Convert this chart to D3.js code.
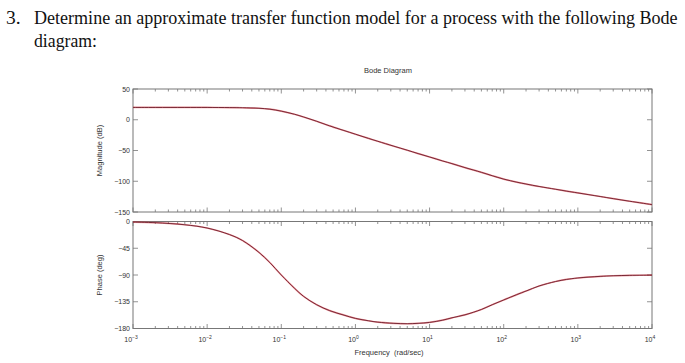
<!DOCTYPE html>
<html>
<head>
<meta charset="utf-8">
<script src="https://cdn.jsdelivr.net/npm/d3@7"></script>
<style>
  body { margin: 0; background: #fff; }
  svg { display: block; }
  .hdr { font-family: "Liberation Serif", "Times New Roman", serif; font-size: 19.5px; fill: #111; }
  .lbl { font-family: "Liberation Sans", Arial, sans-serif; fill: #333; }
</style>
</head>
<body>
<svg width="685" height="363"></svg>
<script>
// frequencies (rad/sec)
var freq = [0.001, 0.002, 0.005, 0.01, 0.02, 0.03, 0.05, 0.07, 0.1, 0.15, 0.2, 0.3, 0.45, 0.7,
            1, 1.5, 2, 3.3, 5, 7, 10, 15, 20, 30, 50, 70, 100, 150, 200, 300, 500, 700,
            1000, 2000, 3000, 5000, 10000];
var magDb = [20, 20, 20, 20, 19.8, 19.5, 18.7, 17.2, 14, 9, 4.5, -2.5, -10, -17.5,
             -23.5, -30.3, -35, -43, -49.5, -55, -60.5, -67, -71.3, -77.8, -85.5, -91, -96.5, -101.5, -104.5, -108.5, -113, -116,
             -119, -124.8, -128.3, -132.5, -138];
var phaseDeg = [-1, -2, -5.5, -11, -22, -32, -52, -69, -90, -112, -126, -140, -150, -157.5,
                -163, -167, -169.3, -171.3, -172, -171.3, -169.8, -166, -162, -157, -148, -140, -132, -123, -117, -108.5, -101, -97.5,
                -95, -92.3, -91.3, -90.6, -90.2];

var magTicks = [50, 0, -50, -100, -150];
var phaseTicks = [0, -45, -90, -135, -180];
var decades = [-3, -2, -1, 0, 1, 2, 3, 4];

var svg = d3.select("svg");

// header text, squeezed horizontally like the scanned original
function header(str, x0, y0, width) {
  var g = svg.append("g");
  var t = g.append("text").attr("class", "hdr").text(str);
  var k = width ? width / t.node().getComputedTextLength() : 1;
  g.attr("transform", "translate(" + x0 + "," + y0 + ") scale(" + k + ",1)");
}
header("3.", 6, 24, 0);
header("Determine an approximate transfer function model for a process with the following Bode", 34, 24, 644);
header("diagram:", 34, 47, 63);

var x = d3.scaleLog().domain([1e-3, 1e4]).range([133, 652]);
var yMag = d3.scaleLinear().domain([-150, 50]).range([212, 89]);
var yPh = d3.scaleLinear().domain([-180, 0]).range([328.5, 221.5]);

var minor = [];
decades.slice(0, -1).forEach(function(e) {
  for (var k = 2; k <= 9; k++) minor.push(k * Math.pow(10, e));
});
var major = decades.map(function(e) { return Math.pow(10, e); });

function panel(y, ticks, vals, label, showX) {
  var g = svg.append("g");
  var top = y.range()[1], bot = y.range()[0];
  var l = x.range()[0], r = x.range()[1];

  g.append("rect").attr("x", l).attr("y", top).attr("width", r - l).attr("height", bot - top)
    .attr("fill", "none").attr("stroke", "#777").attr("stroke-width", 1);

  // x ticks top and bottom, inside
  [[top, 1], [bot, -1]].forEach(function(p) {
    g.selectAll(null).data(minor).enter().append("line")
      .attr("x1", function(d) { return x(d); }).attr("x2", function(d) { return x(d); })
      .attr("y1", p[0]).attr("y2", p[0] + p[1] * 2.5)
      .attr("stroke", "#777").attr("stroke-width", 0.8);
    g.selectAll(null).data(major).enter().append("line")
      .attr("x1", function(d) { return x(d); }).attr("x2", function(d) { return x(d); })
      .attr("y1", p[0]).attr("y2", p[0] + p[1] * 4.5)
      .attr("stroke", "#777").attr("stroke-width", 0.8);
  });

  // y ticks left and right, inside
  [[l, 1], [r, -1]].forEach(function(p) {
    g.selectAll(null).data(ticks).enter().append("line")
      .attr("x1", p[0]).attr("x2", p[0] + p[1] * 5)
      .attr("y1", function(d) { return y(d); }).attr("y2", function(d) { return y(d); })
      .attr("stroke", "#777").attr("stroke-width", 0.8);
  });

  g.selectAll(null).data(ticks).enter().append("text")
    .attr("class", "lbl").attr("font-size", 7)
    .attr("x", l - 3).attr("y", function(d) { return y(d) + 2.5; })
    .attr("text-anchor", "end").attr("fill", "#666")
    .text(function(d) { return d < 0 ? "\u2212" + (-d) : d; });

  g.append("text").attr("class", "lbl").attr("font-size", 7.5)
    .attr("fill", "#111")
    .attr("transform", "translate(102," + ((top + bot) / 2) + ") rotate(-90)")
    .attr("text-anchor", "middle").text(label);

  var line = d3.line()
    .x(function(d, i) { return x(freq[i]); })
    .y(function(d) { return y(d); })
    .curve(d3.curveCatmullRom.alpha(0.5));

  g.append("path").datum(vals).attr("d", line)
    .attr("fill", "none").attr("stroke", "#e0404a").attr("stroke-width", 1.7).attr("opacity", 0.55);
  g.append("path").datum(vals).attr("d", line)
    .attr("fill", "none").attr("stroke", "#5a0c1c").attr("stroke-width", 0.8);

  if (showX) {
    var t = g.selectAll(null).data(decades).enter().append("text")
      .attr("class", "lbl").attr("font-size", 7).attr("fill", "#666")
      .attr("x", function(d) { return x(Math.pow(10, d)) - 2; })
      .attr("y", bot + 13.5).attr("text-anchor", "middle");
    t.append("tspan").text("10");
    t.append("tspan").attr("font-size", 5).attr("dy", -3.5)
      .text(function(d) { return d < 0 ? "\u2212" + (-d) : d; });
  }
}

panel(yMag, magTicks, magDb, "Magnitude (dB)", false);
panel(yPh, phaseTicks, phaseDeg, "Phase (deg)", true);

svg.append("text").attr("class", "lbl").attr("font-size", 7.5)
  .attr("fill", "#111").attr("x", 388).attr("y", 73).attr("text-anchor", "middle")
  .text("Bode Diagram");
svg.append("text").attr("class", "lbl").attr("font-size", 7.5)
  .attr("fill", "#111").attr("x", 389).attr("y", 355).attr("text-anchor", "middle")
  .attr("xml:space", "preserve")
  .text("Frequency  (rad/sec)");
</script>
</body>
</html>
